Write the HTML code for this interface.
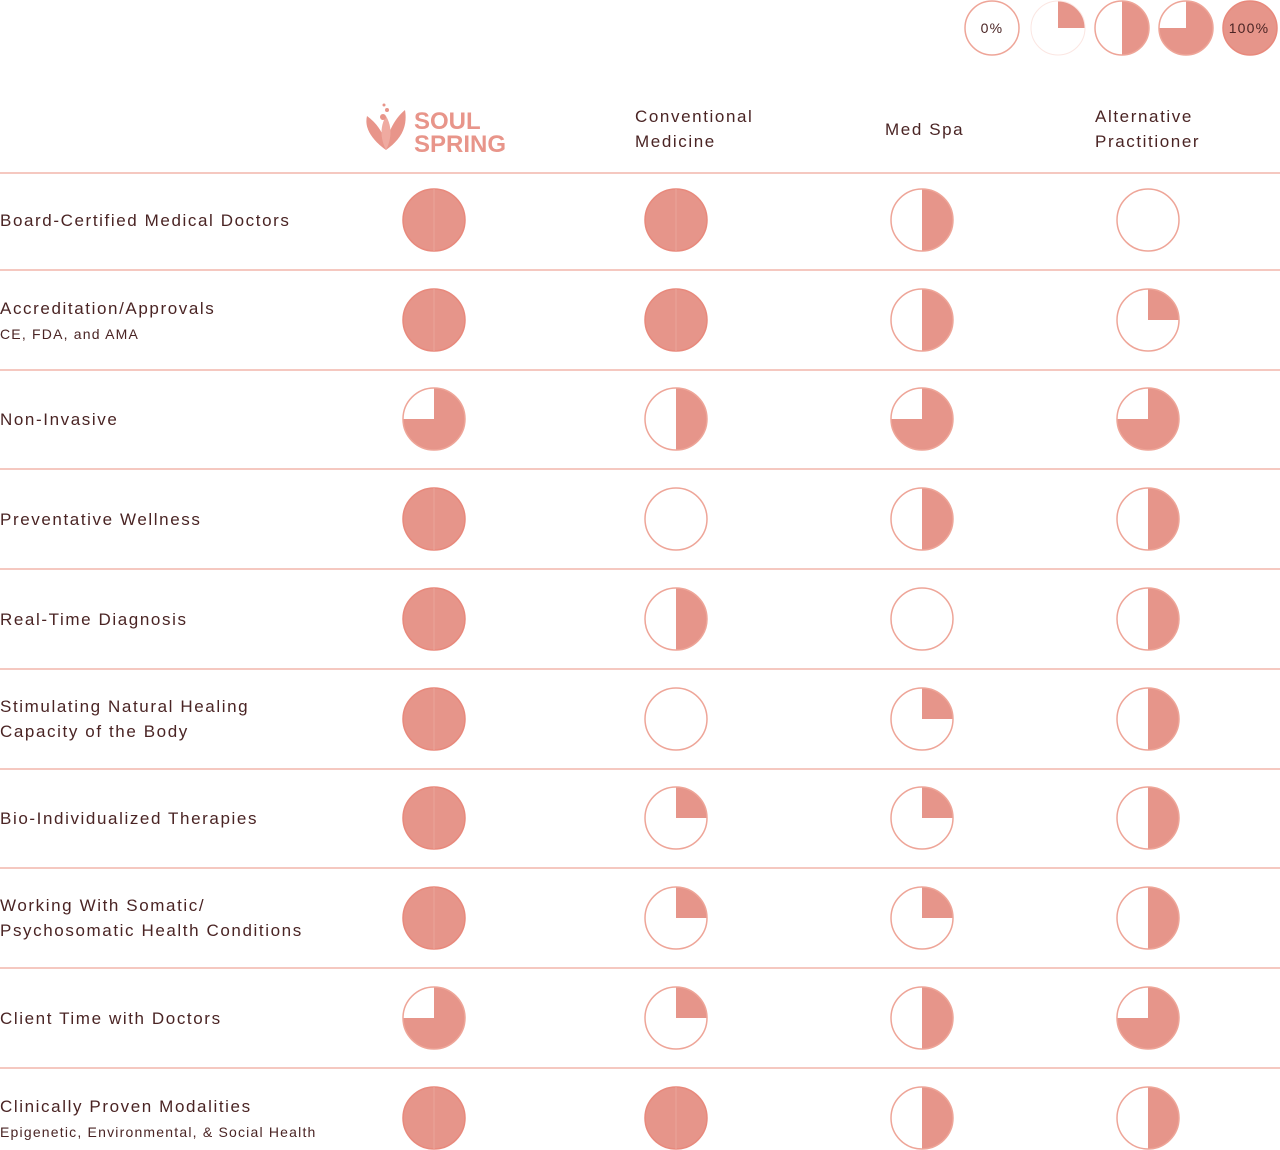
<!DOCTYPE html>
<html><head><meta charset="utf-8"><style>
body{margin:0;background:#fff;}
svg{display:block;font-family:"Liberation Sans",sans-serif;}
.t{fill:#4a2424;font-size:17px;letter-spacing:1.6px;}
.s{fill:#4a2424;font-size:14px;letter-spacing:1.2px;}
.h{fill:#4a2424;font-size:17px;letter-spacing:1.6px;}
</style></head><body>
<svg width="1280" height="1150" viewBox="0 0 1280 1150">
<g id="legend">
<circle cx="992" cy="28" r="27" fill="#fff" stroke="#eea598" stroke-width="1.5"/>
<text x="992" y="33" text-anchor="middle" class="s" font-size="13" letter-spacing="0.5">0%</text>
<path d="M1058 28 V1 A27 27 0 0 1 1085 28 Z" fill="#e6958a"/>
<circle cx="1058" cy="28" r="27" fill="none" stroke="#fbe6e2" stroke-width="1"/>
<path d="M1122 1 A27 27 0 0 1 1122 55 Z" fill="#e6958a"/>
<circle cx="1122" cy="28" r="27" fill="none" stroke="#eea598" stroke-width="1.5"/>
<path d="M1186 28 V1 A27 27 0 1 1 1159 28 Z" fill="#e6958a"/>
<circle cx="1186" cy="28" r="27" fill="none" stroke="#eea598" stroke-width="1.5"/>
<circle cx="1250" cy="28" r="27" fill="#e6958a" stroke="#e8897c" stroke-width="1.5"/>
<text x="1249" y="33" text-anchor="middle" class="s" font-size="13" letter-spacing="0.5">100%</text>
</g>
<g id="logo" fill="#e8958a">
<path d="M386 150 C372 140 364 128 367 116 C378 124 386 136 386 150Z"/>
<path d="M386 150 C400 140 408 128 405 110 C393 120 386 136 386 150Z"/>
<path d="M386 150 C380 138 380 126 386 116 C392 126 392 138 386 150Z" fill="#efaaa0"/>
<circle cx="383" cy="117" r="3"/><circle cx="387" cy="110" r="2"/><circle cx="384" cy="105" r="1.5"/>
<text x="414" y="129" font-size="24" font-weight="bold" letter-spacing="0" fill="#e8958a">SOUL</text>
<text x="414" y="152" font-size="24" font-weight="bold" letter-spacing="0" fill="#e8958a">SPRING</text>
</g>
<text x="635" y="122" class="h">Conventional</text>
<text x="635" y="147" class="h">Medicine</text>
<text x="885" y="135" class="h">Med Spa</text>
<text x="1095" y="122" class="h">Alternative</text>
<text x="1095" y="147" class="h">Practitioner</text>
<g stroke="#f5c8c0" stroke-width="2">
<line x1="0" y1="173" x2="1280" y2="173"/><line x1="0" y1="270" x2="1280" y2="270"/>
<line x1="0" y1="370" x2="1280" y2="370"/><line x1="0" y1="469" x2="1280" y2="469"/>
<line x1="0" y1="569" x2="1280" y2="569"/><line x1="0" y1="669" x2="1280" y2="669"/>
<line x1="0" y1="769" x2="1280" y2="769"/><line x1="0" y1="868" x2="1280" y2="868"/>
<line x1="0" y1="968" x2="1280" y2="968"/><line x1="0" y1="1068" x2="1280" y2="1068"/>
</g>
<text x="0" y="226" class="t">Board-Certified Medical Doctors</text>
<text x="0" y="314" class="t">Accreditation/Approvals</text>
<text x="0" y="339" class="s">CE, FDA, and AMA</text>
<text x="0" y="425" class="t">Non-Invasive</text>
<text x="0" y="525" class="t">Preventative Wellness</text>
<text x="0" y="625" class="t">Real-Time Diagnosis</text>
<text x="0" y="712" class="t">Stimulating Natural Healing</text>
<text x="0" y="737" class="t">Capacity of the Body</text>
<text x="0" y="824" class="t">Bio-Individualized Therapies</text>
<text x="0" y="911" class="t">Working With Somatic/</text>
<text x="0" y="936" class="t">Psychosomatic Health Conditions</text>
<text x="0" y="1024" class="t">Client Time with Doctors</text>
<text x="0" y="1112" class="t">Clinically Proven Modalities</text>
<text x="0" y="1137" class="s">Epigenetic, Environmental, &amp; Social Health</text>
<g id="pies"></g>
</svg>
<script>
var data=[[4,4,2,0],[4,4,2,1],[3,2,3,3],[4,0,2,2],[4,2,0,2],[4,0,1,2],[4,1,1,2],[4,1,1,2],[3,1,2,3],[4,4,2,2]];
var xs=[434,676,922,1148],ys=[220,320,419,519,619,719,818,918,1018,1118],r=31,h='';
data.forEach(function(row,i){row.forEach(function(v,j){var x=xs[j],y=ys[i];
if(v==4)h+='<circle cx="'+x+'" cy="'+y+'" r="'+r+'" fill="#e6958a" stroke="#e8897c" stroke-width="1.5"/><line x1="'+x+'" y1="'+(y-r)+'" x2="'+x+'" y2="'+(y+r)+'" stroke="#eba59b" stroke-width="1"/>';
else{h+='<circle cx="'+x+'" cy="'+y+'" r="'+r+'" fill="#fff"/>';
if(v==1)h+='<path d="M'+x+' '+y+' V'+(y-r)+' A'+r+' '+r+' 0 0 1 '+(x+r)+' '+y+' Z" fill="#e6958a"/>';
if(v==2)h+='<path d="M'+x+' '+(y-r)+' A'+r+' '+r+' 0 0 1 '+x+' '+(y+r)+' Z" fill="#e6958a"/>';
if(v==3)h+='<path d="M'+x+' '+y+' V'+(y-r)+' A'+r+' '+r+' 0 1 1 '+(x-r)+' '+y+' Z" fill="#e6958a"/>';
h+='<circle cx="'+x+'" cy="'+y+'" r="'+r+'" fill="none" stroke="#eea598" stroke-width="1.5"/>';}
});});
document.getElementById('pies').innerHTML=h;
</script>
</body></html>
